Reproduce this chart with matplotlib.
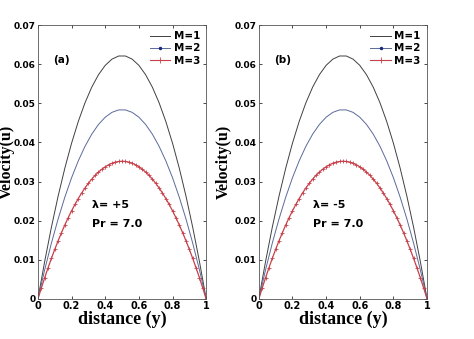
import matplotlib
matplotlib.use("Agg")
import matplotlib.pyplot as plt
from matplotlib.lines import Line2D

# distance (y) sample points
x26 = [0.00, 0.04, 0.08, 0.12, 0.16, 0.20, 0.24, 0.28, 0.32, 0.36, 0.40, 0.44, 0.48,
       0.52, 0.56, 0.60, 0.64, 0.68, 0.72, 0.76, 0.80, 0.84, 0.88, 0.92, 0.96, 1.00]

u_m1 = [0, 0.00955, 0.01831, 0.02627, 0.03344, 0.03981, 0.04538, 0.05016, 0.05414,
        0.05732, 0.05971, 0.06130, 0.06210, 0.06210, 0.06130, 0.05971, 0.05732,
        0.05414, 0.05016, 0.04538, 0.03981, 0.03344, 0.02627, 0.01831, 0.00955, 0]

u_m2 = [0, 0.00743, 0.01425, 0.02044, 0.02602, 0.03098, 0.03531, 0.03903, 0.04213,
        0.04461, 0.04646, 0.04770, 0.04832, 0.04832, 0.04770, 0.04646, 0.04461,
        0.04213, 0.03903, 0.03531, 0.03098, 0.02602, 0.02044, 0.01425, 0.00743, 0]

x51 = [i / 50 for i in range(51)]
u_m3_half = [0, 0.00276, 0.00541, 0.00794, 0.01036, 0.01267, 0.01487, 0.01695,
             0.01892, 0.02078, 0.02253, 0.02416, 0.02568, 0.02709, 0.02839, 0.02957,
             0.03064, 0.03160, 0.03244, 0.03317, 0.03379, 0.03430, 0.03469, 0.03497,
             0.03514, 0.03520]
u_m3 = u_m3_half + u_m3_half[-2::-1]

panels = ["(a)", "(b)"]
lambdas = ["\u03bb= +5", "\u03bb= -5"]
yticks = [0, 0.01, 0.02, 0.03, 0.04, 0.05, 0.06, 0.07]
ytick_labels = ["0", "0.01", "0.02", "0.03", "0.04", "0.05", "0.06", "0.07"]
xticks = [0, 0.2, 0.4, 0.6, 0.8, 1.0]
xtick_labels = ["0", "0.2", "0.4", "0.6", "0.8", "1"]

sans = ["DejaVu Sans"]
serif = ["Liberation Serif", "DejaVu Serif"]

fig = plt.figure(figsize=(4.74, 3.39), dpi=100)
lefts = [0.080, 0.546]
label_x = [-0.135, -0.16]
for i in range(2):
    ax = fig.add_axes([lefts[i], 0.118, 0.355, 0.808])
    ax.plot(x26, u_m1, color="#404040", lw=0.7)
    ax.plot(x26, u_m2, color="#5a6a9a", lw=0.7)
    ax.plot(x51, u_m3, color="#c8404a", lw=0.9, marker="+", markersize=3,
            markeredgewidth=0.6)
    handles = [Line2D([], [], color="#404040", lw=0.7),
               Line2D([], [], color="#5a6a9a", lw=0.7, marker=".", markersize=3,
                      markerfacecolor="#1a2a80", markeredgecolor="#1a2a80"),
               Line2D([], [], color="#c8404a", lw=0.8, marker="+", markersize=5,
                      markeredgewidth=0.6)]
    ax.set_xlim(0, 1)
    ax.set_ylim(0, 0.07)
    ax.set_xticks(xticks)
    ax.set_xticklabels(xtick_labels, family=sans, fontweight="bold", fontsize=7)
    ax.set_yticks(yticks)
    ax.set_yticklabels(ytick_labels, family=sans, fontweight="bold", fontsize=6.5)
    ax.tick_params(direction="in", length=2.5, width=0.5, top=True, right=True, pad=1.5)
    for s in ax.spines.values():
        s.set_linewidth(0.6)
        s.set_color("#555555")
    ax.set_xlabel("distance (y)", family=serif, fontweight="bold", fontsize=13, labelpad=0)
    ax.set_ylabel("Velocity(u)", family=serif, fontweight="bold", fontsize=11.5)
    ax.yaxis.set_label_coords(label_x[i], 0.5)
    ax.text(0.09, 0.0603, panels[i], family=sans, fontweight="bold", fontsize=7.5)
    ax.text(0.32, 0.0232, lambdas[i], family=sans, fontweight="bold", fontsize=8)
    ax.text(0.32, 0.0183, "Pr = 7.0", family=sans, fontweight="bold", fontsize=8)
    ax.legend(handles, ["M=1", "M=2", "M=3"], loc="upper right", frameon=False,
              handlelength=2.0, handletextpad=0.3, labelspacing=0.2, borderaxespad=0.2,
              prop={"family": sans, "weight": "bold", "size": 7.5})

fig.savefig("out.png", dpi=100)
